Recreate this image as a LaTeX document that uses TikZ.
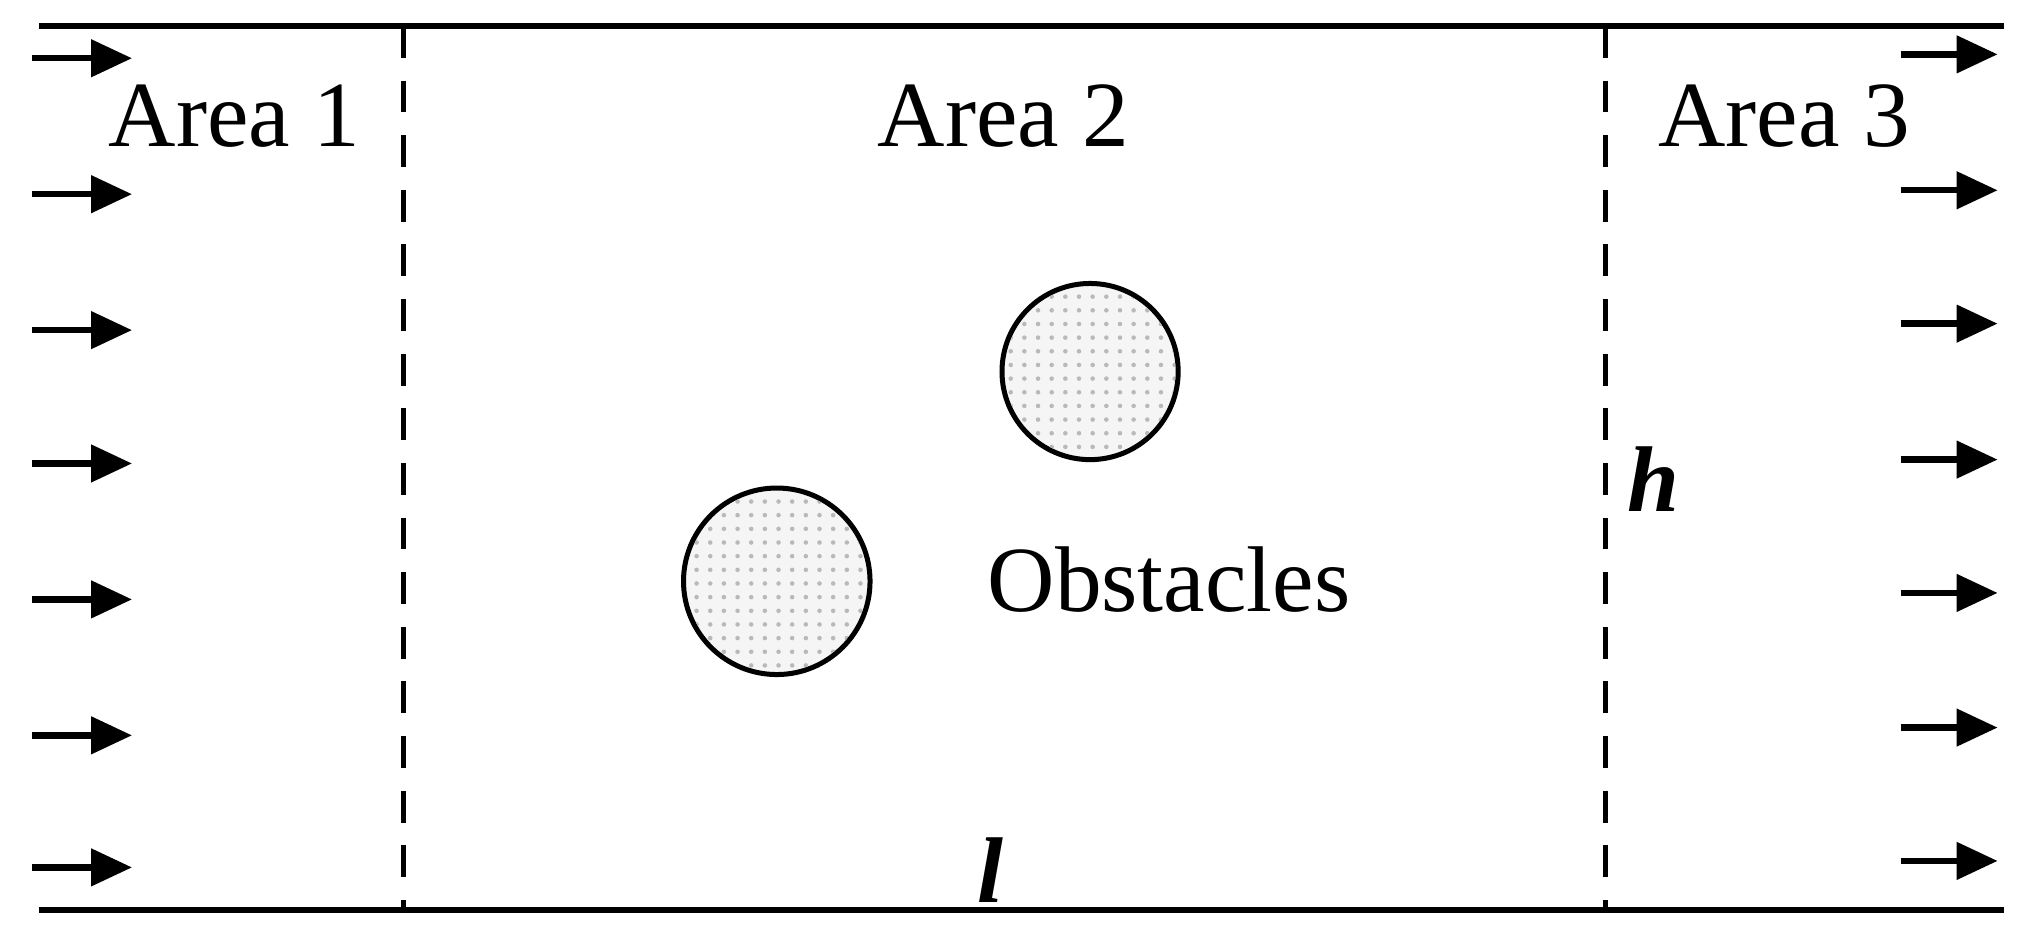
\documentclass[tikz,border=0pt]{standalone}
\usepackage{fontspec}
\setmainfont{Liberation Serif}
\usetikzlibrary{arrows.meta,patterns}
\begin{document}
\begin{tikzpicture}[x=0.01cm,y=-0.01cm,
  wall/.style={line width=1.4pt},
  divider/.style={line width=1.1pt,dash pattern=on 7pt off 5pt},
  flow/.style={line width=1.4pt,-{Triangle[length=9pt,width=8pt]}},
  obst/.style={circle,draw,line width=1.1pt,fill=gray!8,pattern color=gray!60},
  lbl/.style={font=\fontsize{20.5}{24}\selectfont,inner sep=0pt}]
\useasboundingbox (0,0) rectangle (1568,725);
\coordinate (tl) at (30,20); \coordinate (tr) at (1548,20);
\coordinate (bl) at (30,703); \coordinate (br) at (1548,703);
\draw[wall] (tl) -- (tr);
\draw[wall] (bl) -- (br);
\coordinate (d1t) at (312,20); \coordinate (d1b) at (312,703);
\coordinate (d2t) at (1240,20); \coordinate (d2b) at (1240,703);
\draw[divider] (d1t) -- (d1b);
\draw[divider] (d2t) -- (d2b);
\foreach \y [count=\i] in {45,150,255,358,463,568,670}{
  \coordinate (ls\i) at (25,\y); \coordinate (le\i) at (102,\y);
  \draw[flow] (ls\i) -- (le\i);}
\foreach \y [count=\i] in {42,147,250,355,458,562,665}{
  \coordinate (rs\i) at (1468,\y); \coordinate (re\i) at (1543,\y);
  \draw[flow] (rs\i) -- (re\i);}
\node[obst,minimum size=136\pgflinewidth*0+1.36cm] (o1) at (842,287) {};
\node[obst,minimum size=1.44cm] (o2) at (600,449) {};
\fill[pattern=dots,pattern color=gray!55] (o1.center) circle (66);
\fill[pattern=dots,pattern color=gray!55] (o2.center) circle (70);
\node[lbl] (a1) at (181,90) {Area 1};
\node[lbl] (a2) at (775,90) {Area 2};
\node[lbl] (a3) at (1378,90) {Area 3};
\node[lbl] (ob) at (903,448) {Obstacles};
\node[lbl] (h) at (1277,370) {\textbf{\textit{h}}};
\node[lbl] (l) at (765,672) {\textbf{\textit{l}}};
\end{tikzpicture}
\end{document}
